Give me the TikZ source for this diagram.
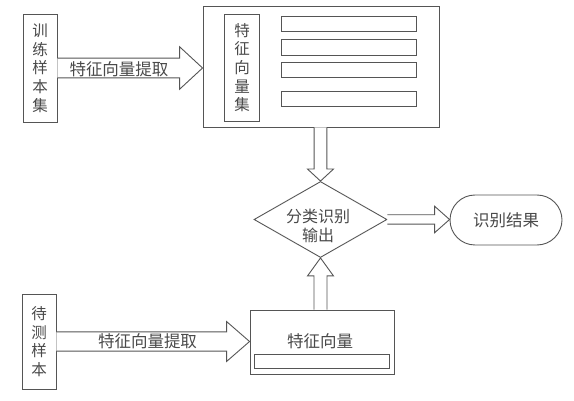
\documentclass[tikz,border=0pt]{standalone}
\usepackage{fontspec}
\setmainfont{Noto Sans CJK SC}
\usetikzlibrary{shapes.geometric,calc}
\definecolor{lc}{HTML}{555555}
\definecolor{tc}{HTML}{4A4A4A}
\newcommand\blockarrow[5]{% A, B, shaft half width, head half width, head length
  \draw[blk] ($(#1)!#3!90:(#2)$) -- ($(#2)!#5!(#1)!#3!-90:(#1)$) -- ($(#2)!#5!(#1)!#4!-90:(#1)$) -- (#2)
    -- ($(#2)!#5!(#1)!#4!90:(#1)$) -- ($(#2)!#5!(#1)!#3!90:(#1)$) -- ($(#1)!#3!-90:(#2)$);
}
\begin{document}
\begin{tikzpicture}[x=1pt,y=-1pt,
  box/.style={draw=lc, line width=0.9pt, inner sep=0pt, text=tc},
  vtext/.style={align=center, font=\fontsize{15.5}{18.7}\selectfont},
  bar/.style={draw=lc, line width=0.8pt, minimum width=135pt, minimum height=15.5pt, inner sep=0pt},
  blk/.style={draw=lc, line width=0.9pt, fill=white, line join=miter},
  txt/.style={text=tc, inner sep=0pt}]
\useasboundingbox (0,0) rectangle (574,401);
\fill[white] (0,0) rectangle (574,401);
% top part
\node[box, minimum width=34pt, minimum height=108pt, vtext] (train) at (40,68) {训\\练\\样\\本\\集};
\node[box, minimum width=236pt, minimum height=121pt] (bigbox) at (321,66.5) {};
\node[box, minimum width=34.5pt, minimum height=107pt, vtext] (setbox) at (242,67.5) {特\\征\\向\\量\\集};
\node[bar] (b1) at (348.5,24) {};
\node[bar] (b2) at (348.5,47.3) {};
\node[bar] (b3) at (348.5,70) {};
\node[bar] (b4) at (348.5,99) {};
% decision
\node[box, diamond, minimum width=133pt, minimum height=76pt] (dec) at (320.5,219.5) {};
\node[txt, align=center, font=\fontsize{16}{19}\selectfont] (dect) at (318,225.5) {分类识别\\输出};
\node[box, rounded corners=25pt, minimum width=112pt, minimum height=50pt, font=\fontsize{16.5}{18}\selectfont] (res) at (506,220) {识别结果};
% bottom part
\node[box, minimum width=34pt, minimum height=95pt, vtext] (test) at (39,341.5) {待\\测\\样\\本};
\node[box, minimum width=144pt, minimum height=64pt] (vecbox) at (322,342) {};
\node[txt, font=\fontsize{16.5}{18}\selectfont] (vect) at (320,341) {特征向量};
\node[bar, minimum height=14.7pt] (b5) at (321.5,361.3) {};
% block arrows
\blockarrow{train.east}{bigbox.west |- train.east}{9.85pt}{21.3pt}{23pt}
\blockarrow{test.east}{vecbox.west |- test.east}{9.65pt}{20pt}{23pt}
\blockarrow{bigbox.south -| dec.north}{dec.north}{6.35pt}{13pt}{12pt}
\blockarrow{vecbox.north -| dec.south}{dec.south}{6.5pt}{13pt}{18pt}
\blockarrow{dec.east}{res.west |- dec.east}{4.7pt}{13.3pt}{15pt}
\node[txt, font=\fontsize{16.5}{18}\selectfont] (a1t) at (119,69) {特征向量提取};
\node[txt, font=\fontsize{16.5}{18}\selectfont] (a2t) at (147.5,341.5) {特征向量提取};
\end{tikzpicture}
\end{document}
